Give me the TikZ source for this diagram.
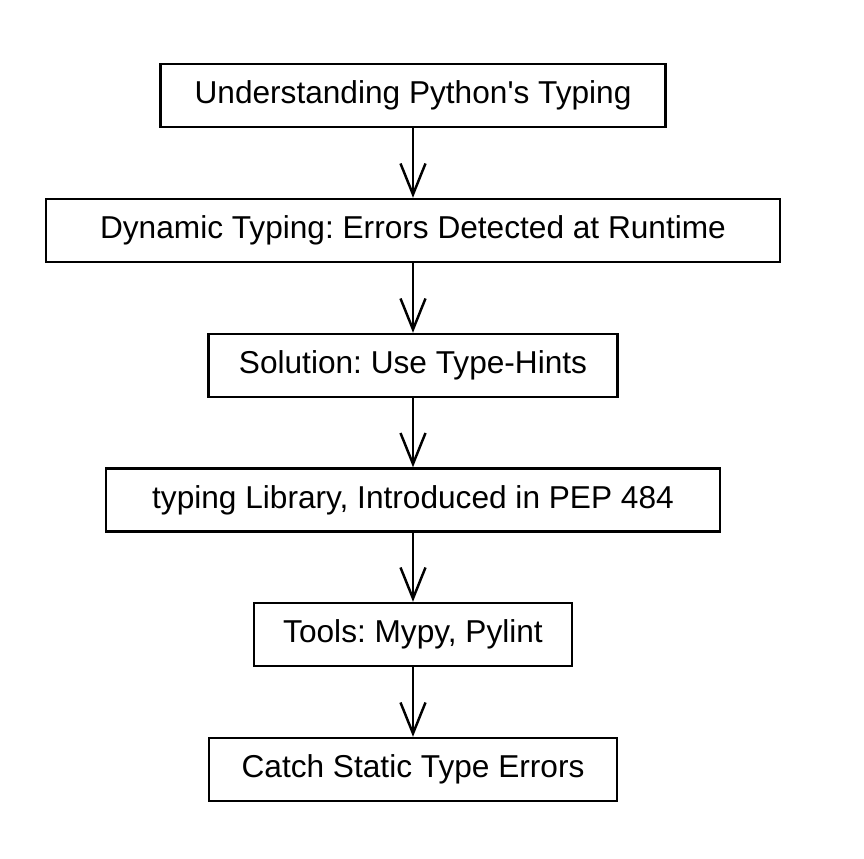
\documentclass[tikz,border=0pt]{standalone}
\usepackage{fontspec}
\setmainfont{Liberation Sans}[Ligatures=TeXOff]
\frenchspacing
\usetikzlibrary{arrows.meta}
\tikzset{
	stepbox/.style={shape=rectangle, draw, line width=1.4pt, inner sep=0, minimum height=1.26cm, font=\fontsize{18}{21}\selectfont},
	flow/.style={line width=1.4pt, -{Straight Barb[length=0.62cm, width=0.5cm, line width=1.4pt]}}
}
\begin{document}
\begin{tikzpicture}
	\useasboundingbox (0, 0) rectangle (17.28, -17.16);
	\node[stepbox, minimum width=10.1cm] (typing) at (8.26, -1.91) {Understanding Python's Typing};
	\node[stepbox, minimum width=14.68cm] (dynamic) at (8.26, -4.61) {Dynamic Typing: Errors Detected at Runtime};
	\node[stepbox, minimum width=8.18cm] (hints) at (8.26, -7.31) {Solution: Use Type-Hints};
	\node[stepbox, minimum width=12.28cm] (library) at (8.26, -10.0) {typing Library, Introduced in PEP 484};
	\node[stepbox, minimum width=6.36cm] (tools) at (8.26, -12.69) {Tools: Mypy, Pylint};
	\node[stepbox, minimum width=8.16cm] (catch) at (8.26, -15.39) {Catch Static Type Errors};
	\draw[flow] (typing) -- (dynamic);
	\draw[flow] (dynamic) -- (hints);
	\draw[flow] (hints) -- (library);
	\draw[flow] (library) -- (tools);
	\draw[flow] (tools) -- (catch);
\end{tikzpicture}
\end{document}
